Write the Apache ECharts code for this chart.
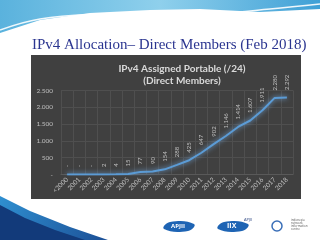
<!DOCTYPE html>
<html><head><meta charset="utf-8">
<script src="https://cdn.jsdelivr.net/npm/echarts@6/dist/echarts.min.js"></script>
<style>html,body{margin:0;padding:0;background:#fff}#c{width:320px;height:240px}</style>
</head><body><div id="c"></div>
<script>
var categories = ['<2000','2001','2002','2003','2004','2005','2006','2007','2008','2009','2010','2011','2012','2013','2014','2015','2016','2017','2018'];
var values = [0,0,0,2,4,15,77,90,154,288,425,647,902,1146,1414,1607,1911,2280,2292];
var yTicks = [0,500,1000,1500,2000,2500];
var slideTitle = 'IPv4 Allocation– Direct Members (Feb 2018)';
var chartTitle = 'IPv4 Assigned Portable (/24)\n(Direct Members)';

function fmt(v){ if(v===0) return '-'; var s=String(Math.round(v)); return s.replace(/\B(?=(\d{3})+(?!\d))/g,'.'); }

var chart = echarts.init(document.getElementById('c'), null, {renderer:'canvas'});
chart.setOption({
  backgroundColor:'#ffffff',
  animation:false,
  graphic:[
    {type:'polygon', z:-20, shape:{points:[[0,0],[320,0],[320,9],[260,12],[200,9],[150,10],[90,13],[40,20],[0,33]]},
     style:{fill:new echarts.graphic.LinearGradient(0,0,1,0,[{offset:0,color:'#5ab2dd'},{offset:0.5,color:'#8fd0ec'},{offset:1,color:'#3fa0d6'}])}},
    {type:'polyline', z:-19, shape:{points:[[0,30],[40,19],[100,14],[160,13],[220,13],[270,9],[320,4]], smooth:0.4},
     style:{stroke:'#ffffff', lineWidth:1.5, opacity:0.9}},
    {type:'polygon', z:-20, shape:{points:[[0,196],[30,211],[70,227],[108,240],[0,240]]},
     style:{fill:new echarts.graphic.LinearGradient(0,0,1,1,[{offset:0,color:'#2f8fd0'},{offset:1,color:'#1c4f96'}])}},
    {type:'polygon', z:-19, shape:{points:[[0,205],[25,218],[55,230],[85,240],[0,240]]},
     style:{fill:'#123a7a'}},
    {type:'rect', z:-10, shape:{x:31,y:55,width:270,height:144}, style:{fill:'#404040'}},
    {type:'text', z:10, left:32, top:38, style:{text:slideTitle, fill:'#2b3590', font:'15px "Liberation Serif", "DejaVu Serif", serif'}},
    {type:'polygon', z:5, shape:{points:[[164,229],[170,222],[194,224],[188,231]], smooth:0.5}, style:{fill:'#1e64b4'}},
    {type:'text', z:6, left:171, top:223, style:{text:'APJII', fill:'#ffffff', font:'bold 6px "Open Sans", sans-serif'}},
    {type:'polygon', z:5, shape:{points:[[218,229],[224,222],[248,224],[242,231]], smooth:0.5}, style:{fill:'#1e64b4'}},
    {type:'text', z:6, left:227, top:222, style:{text:'IIX', fill:'#ffffff', font:'bold 7px "Open Sans", sans-serif'}},
    {type:'text', z:6, left:244, top:218, style:{text:'APJII', fill:'#1e3a7a', font:'4px "Open Sans", sans-serif'}},
    {type:'circle', z:5, shape:{cx:277,cy:226,r:5}, style:{fill:'none', stroke:'#3a6fb8', lineWidth:1.5}},
    {type:'text', z:6, left:291, top:219, style:{text:'indonesia\nnetwork\ninformation\ncentre', fill:'#555', font:'3px "Open Sans", sans-serif'}}
  ],
  title:{text:chartTitle, left:177, textAlign:'center', top:58,
    textStyle:{color:'#d9d9d9', fontSize:10, fontWeight:'bold', fontFamily:'Lato, "Open Sans", sans-serif', lineHeight:12}},
  grid:{left:61, right:27, top:90.5, bottom:65.5},
  xAxis:{type:'category', data:categories, boundaryGap:true,
    axisLine:{lineStyle:{color:'#595959'}}, axisTick:{show:false},
    splitLine:{show:true, lineStyle:{color:'#4f4f4f', width:1}},
    axisLabel:{rotate:45, interval:0, color:'#bfbfbf', fontSize:6.5, margin:4, fontFamily:'Lato, sans-serif'}},
  yAxis:{type:'value', min:0, max:2500, interval:500,
    axisLine:{show:false}, axisTick:{show:false},
    splitLine:{lineStyle:{color:'#4f4f4f', width:1}},
    axisLabel:{color:'#bfbfbf', fontSize:6.5, margin:8, fontFamily:'Lato, sans-serif', formatter:function(v){return fmt(v);}}},
  series:[{type:'line', data:values, symbol:'circle', symbolSize:1, showSymbol:true,
    itemStyle:{color:'rgba(0,0,0,0)'},
    lineStyle:{color:'#5b9bd5', width:2, shadowColor:'rgba(120,180,240,0.9)', shadowBlur:5},
    labelLayout:{hideOverlap:false},
    label:{show:true, position:'top', rotate:90, distance:7, color:'#bfbfbf', fontSize:6, fontFamily:'Lato, sans-serif', align:'left', verticalAlign:'middle',
      formatter:function(p){return fmt(p.value);}}}]
});
</script></body></html>
